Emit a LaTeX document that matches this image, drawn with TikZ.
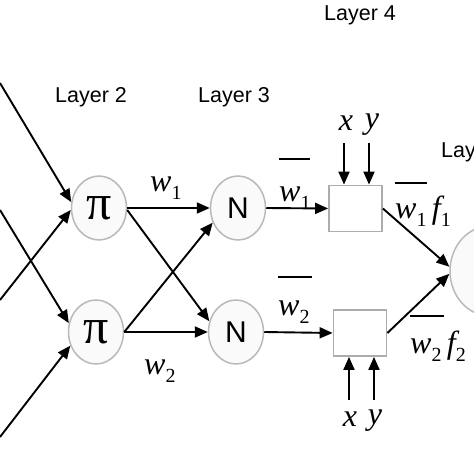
\documentclass[tikz,border=0pt]{standalone}
\usepackage{fontspec}
\setmainfont{Liberation Sans}
\newfontfamily\serifit{Liberation Serif}
\usetikzlibrary{arrows.meta,shapes.geometric}
\newcommand\wsub[1]{\raisebox{-0.28em}{\fontsize{20}{20}\selectfont\upshape #1}}
\newcommand\topbar[2]{\rlap{\raisebox{#1}{\rule{#2}{1.7pt}}}}
\begin{document}
\begin{tikzpicture}[x=1pt,y=-1pt,
 unit/.style={ellipse,draw=gray!55,line width=1.5pt,fill=gray!4,minimum width=55pt,minimum height=64pt,inner sep=0pt},
 prodbox/.style={rectangle,draw=gray!65,line width=1.8pt,fill=white,minimum width=53pt,minimum height=46pt,inner sep=0pt},
 arr/.style={line width=1.9pt,-{Triangle[length=13pt,width=11pt]}},
 layerlab/.style={font=\fontsize{21.5}{21.5}\selectfont,inner sep=0pt},
 mlab/.style={font=\serifit\itshape\fontsize{32}{32}\selectfont,anchor=base west,inner sep=0pt},
 mlabc/.style={font=\serifit\itshape\fontsize{32}{32}\selectfont,inner sep=0pt},
 pilab/.style={font=\serifit\fontsize{50}{50}\selectfont},
 nlab/.style={font=\fontsize{30}{30}\selectfont},
]
\clip (0,0) rectangle (474,474);
\fill[white] (0,0) rectangle (474,474);
% nodes
\node[unit,pilab] (p1) at (99,208) {π};
\node[unit,pilab] (p2) at (96,332) {π};
\node[unit,nlab] (n1) at (238,208) {N};
\node[unit,nlab] (n2) at (236,332) {N};
\node[prodbox] (b1) at (355.5,208.5) {};
\node[prodbox] (b2) at (360,333) {};
\node[unit,minimum width=80pt,minimum height=90pt] (l5) at (490,271) {};
% layer labels
\node[layerlab] (L2) at (91,97) {Layer 2};
\node[layerlab] (L3) at (234,97) {Layer 3};
\node[layerlab] (L4) at (360,15) {Layer 4};
\node[layerlab,anchor=west] (L5) at (441,152) {Layer 5};
% inputs
\coordinate (i1) at (0,83);
\coordinate (i2) at (0,210);
\coordinate (i3) at (0,300);
\coordinate (i4) at (0,437);
\draw[arr] (i1) -- (p1.168);
\draw[arr] (i3) -- (p1.184);
\draw[arr] (i2) -- (p2.162);
\draw[arr] (i4) -- (p2.208);
% layer 2 -> 3
\draw[arr] (p1.east) -- (n1.west);
\draw[arr] (p1.-4) -- (n2.158);
\draw[arr] (p2.east) -- (n1.210);
\draw[arr] (p2.east) -- (n2.west);
% layer 3 -> 4
\draw[arr] (n1.east) -- (b1.west);
\draw[arr] (n2.east) -- (b2.west);
% layer 4 -> 5
\draw[arr] (b1.east) -- (l5.174);
\draw[arr] (b2.east) -- (l5.184);
% x y inputs
\coordinate (xa1) at (344,143);
\coordinate (ya1) at (369,143);
\coordinate (xa2) at (349,400);
\coordinate (ya2) at (374,400);
\draw[arr] (xa1) -- (xa1 |- b1.north);
\draw[arr] (ya1) -- (ya1 |- b1.north);
\draw[arr] (xa2) -- (xa2 |- b2.south);
\draw[arr] (ya2) -- (ya2 |- b2.south);
\node[mlabc] (xt1) at (346,123) {x};
\node[mlabc] (yt1) at (372,125) {y};
\node[mlabc] (xt2) at (350,419) {x};
\node[mlabc] (yt2) at (375,421) {y};
% weight labels
\node[mlab] (w1) at (150,191) {w\wsub{1}};
\node[mlab] (w2) at (144,374) {w\wsub{2}};
\node[mlab] (wb1) at (279,201) {\topbar{41pt}{31pt}w\wsub{1}};
\node[mlab] (wb2) at (278,315) {\topbar{37pt}{34pt}w\wsub{2}};
\node[mlab] (wf1) at (395,218) {\topbar{34pt}{32pt}w\wsub{1}\,f\wsub{1}};
\node[mlab] (wf2) at (410,353) {\topbar{36pt}{34pt}w\wsub{2}\,f\wsub{2}};
\end{tikzpicture}
\end{document}
